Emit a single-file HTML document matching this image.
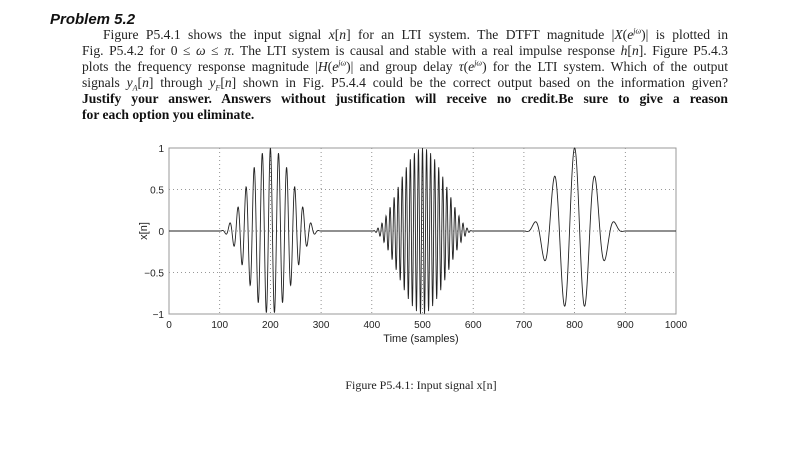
<!DOCTYPE html>
<html><head><meta charset="utf-8">
<style>
body{margin:0;width:802px;height:465px;background:#fff;overflow:hidden;position:relative;font-family:"Liberation Serif",serif;}
#title{position:absolute;left:50px;top:11px;font:italic bold 15px "Liberation Sans",sans-serif;color:#111;}
#para{position:absolute;left:82px;top:27px;width:646px;font-size:13.6px;line-height:16px;color:#222;}
#para .ln{text-align:justify;text-align-last:justify;white-space:nowrap;}
#para .ln.last{text-align-last:left}
#para b{color:#111}
sup,sub{font-size:8px;line-height:0}
svg{position:absolute;left:0;top:0}
</style></head><body>
<div id="title">Problem 5.2</div>
<div id="para">
<div class="ln" style="padding-left:21px">Figure P5.4.1 shows the input signal <i>x</i>[<i>n</i>] for an LTI system. The DTFT magnitude |<i>X</i>(<i>e<sup>jω</sup></i>)| is plotted in</div>
<div class="ln">Fig. P5.4.2 for 0 ≤ <i>ω</i> ≤ <i>π</i>. The LTI system is causal and stable with a real impulse response <i>h</i>[<i>n</i>]. Figure P5.4.3</div>
<div class="ln">plots the frequency response magnitude |<i>H</i>(<i>e<sup>jω</sup></i>)| and group delay <i>τ</i>(<i>e<sup>jω</sup></i>) for the LTI system. Which of the output</div>
<div class="ln">signals <i>y<sub>A</sub></i>[<i>n</i>] through <i>y<sub>F</sub></i>[<i>n</i>] shown in Fig. P5.4.4 could be the correct output based on the information given?</div>
<div class="ln"><b>Justify your answer. Answers without justification will receive no credit.Be sure to give a reason</b></div>
<div class="ln last"><b>for each option you eliminate.</b></div>
</div>
<svg id="chart" width="802" height="465"></svg>
<script>
const xTicks=[0,100,200,300,400,500,600,700,800,900,1000];
const yTicks=[-1,-0.5,0,0.5,1];
const pulseStarts=[100,400,700];
const pulseLengths=[200,200,200];
const pulsePeriods=[16,8,40];
const L=169,R=676,T=148,B=314;
const sx=v=>L+(v-0)/(1000-0)*(R-L);
const sy=v=>B-(v+1)/2*(B-T);
const svg=document.getElementById('chart');
const NS='http://www.w3.org/2000/svg';
function mk(t,a){const e=document.createElementNS(NS,t);for(const k in a)e.setAttribute(k,a[k]);svg.appendChild(e);return e;}
xTicks.forEach(t=>{if(t>0&&t<1000){const g=mk('line',{x1:sx(t),x2:sx(t),y1:T,y2:B,stroke:'#777','stroke-width':0.8,'stroke-dasharray':'1,3'});

}
const lb=mk('text',{x:sx(t),y:B+14,'text-anchor':'middle','font-size':'10','font-family':'Liberation Sans,sans-serif',fill:'#222'});lb.textContent=t;

});
yTicks.forEach(t=>{if(t>-1&&t<1){const g=mk('line',{x1:L,x2:R,y1:sy(t),y2:sy(t),stroke:'#777','stroke-width':0.8,'stroke-dasharray':'1,3'});

}
const lb=mk('text',{x:L-5,y:sy(t)+4,'text-anchor':'end','font-size':'10','font-family':'Liberation Sans,sans-serif',fill:'#222'});lb.textContent=(t<0?'\u2212':'')+Math.abs(t);

});
const box=mk('rect',{x:L,y:T,width:R-L,height:B-T,fill:'none',stroke:'#999','stroke-width':1});


let d='';
for(let n=0;n<=1000;n+=0.5){let v=0;
for(let i=0;i<pulseStarts.length;i++){const s=pulseStarts[i],l=pulseLengths[i];
if(n>=s&&n<=s+l){const c=s+l/2;const w=0.5-0.5*Math.cos(2*Math.PI*(n-s)/l);v+=w*Math.cos(2*Math.PI*(n-c)/pulsePeriods[i]);}}
d+=(n===0?'M':'L')+sx(n).toFixed(2)+','+sy(v).toFixed(2);}
const p=mk('path',{d:d,fill:'none',stroke:'#222','stroke-width':0.9});


const yl=mk('text',{x:0,y:0,transform:'translate(147,231) rotate(-90)','text-anchor':'middle','font-size':'11','font-family':'Liberation Sans,sans-serif',fill:'#222'});yl.textContent='x[n]';


const xl=mk('text',{x:421,y:342,'text-anchor':'middle','font-size':'11','font-family':'Liberation Sans,sans-serif',fill:'#222'});xl.textContent='Time (samples)';


const cap=mk('text',{x:421,y:389,'text-anchor':'middle','font-size':'12','font-family':'Liberation Serif,serif',fill:'#222'});cap.textContent='Figure P5.4.1: Input signal x[n]';


</script>
</body></html>
